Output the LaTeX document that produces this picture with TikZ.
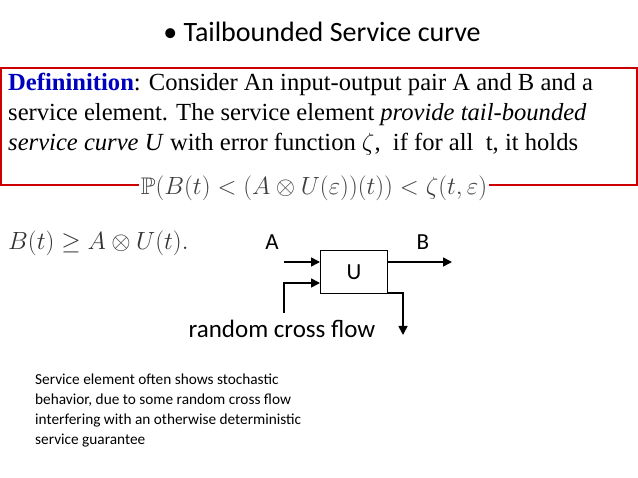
\documentclass[tikz,border=0pt]{standalone}
\usepackage{amsmath,amssymb}
\usepackage{fontspec}
\setmainfont{Liberation Serif}
\newfontfamily\carlitofont{Carlito}
\usetikzlibrary{arrows.meta}
\begin{document}
\begin{tikzpicture}[x=1pt,y=-1pt,
  flow/.style={line width=1.6pt,-{Triangle[length=9pt,width=9pt]}},
  lbl/.style={font=\carlitofont\fontsize{23}{26}\selectfont,inner sep=0pt}]
\useasboundingbox (0,0) rectangle (638,478);
\node[font=\carlitofont\fontsize{28}{32}\selectfont] (title) at (322,32) {• Tailbounded Service curve};
\draw[red!80!black,line width=1.2pt] (1,68) rectangle (637,185);
\node[anchor=north west,align=left,inner sep=0pt,font=\fontsize{24.6}{30}\selectfont] (def) at (8,73)
 {\textcolor{blue!75!black}{\textbf{Defininition}}: Consider An input-output pair A and B and a\\
 service element. The service element \textit{provide tail-bounded}\\
 \textit{service curve U} with error function $\zeta$,\ \ if for all\ \ t, it holds};
\node[fill=white,inner sep=2pt,text=black!75,font=\fontsize{24}{26}\selectfont] (prob) at (314,188)
 {$\mathbb{P}(B(t)<(A\otimes U(\varepsilon))(t))<\zeta(t,\varepsilon)$};
\node[anchor=west,inner sep=0pt,text=black!80,font=\fontsize{25}{28}\selectfont] (ineq) at (8,243) {$B(t)\geq A\otimes U(t).$};
\node[draw,line width=0.8pt,minimum width=67pt,minimum height=43pt,inner sep=0pt,anchor=north west] (U) at (320,250) {};
\node[lbl] at (U.center) {U};
\node[lbl] (A) at (272,242) {A};
\node[lbl] (B) at (423,242) {B};
\coordinate (ain) at (284,262);
\coordinate (bout) at (452,262);
\coordinate (cin) at (284,313);
\coordinate (cout) at (403,335);
\draw[flow] (ain) -- (ain -| U.west);
\draw[flow] (bout -| U.east) -- (bout);
\draw[flow] (cin) |- (320,283);
\draw[flow] (387,293) -| (cout);
\node[font=\carlitofont\fontsize{25}{28}\selectfont,inner sep=0pt] (rcf) at (282,329) {random cross flow};
\node[anchor=north west,align=left,inner sep=0pt,font=\carlitofont\fontsize{15.3}{20}\selectfont] (note) at (35,374)
 {Service element often shows stochastic\\behavior, due to some random cross flow\\interfering with an otherwise deterministic\\service guarantee};
\end{tikzpicture}
\end{document}
